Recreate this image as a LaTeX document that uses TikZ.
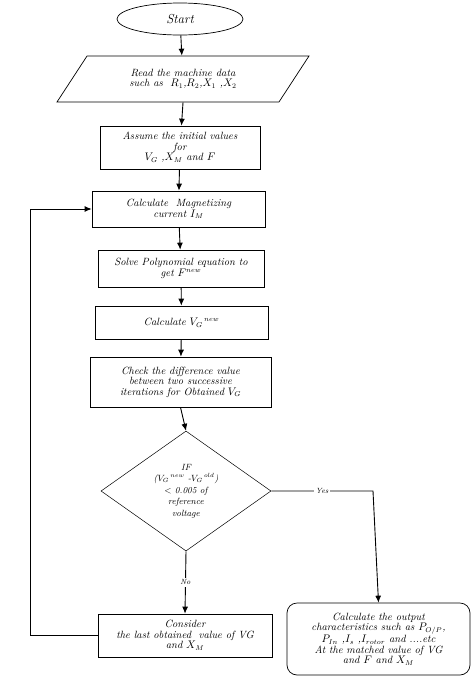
\documentclass[tikz,border=0pt]{standalone}
\usetikzlibrary{shapes.geometric,arrows.meta}
\tikzset{
  box/.style={draw, line width=0.7pt, align=center, font=\fontsize{10.5}{10.5}\selectfont\itshape, inner sep=1pt},
  arr/.style={-{Latex[length=7pt,width=6pt]}, line width=0.9pt},
  lbl/.style={fill=white, font=\fontsize{7.5}{8}\selectfont\itshape, inner sep=2pt}
}
\begin{document}
\begin{tikzpicture}[x=1pt,y=-1pt]
\useasboundingbox (0,0) rectangle (474,681);
\node[box, ellipse, minimum width=126pt, minimum height=32pt, font=\fontsize{13}{13}\selectfont\itshape] (start) at (180,19) {Start};
\node[box, trapezium, trapezium left angle=36, trapezium right angle=144, trapezium stretches body, minimum width=252pt, minimum height=46pt] (read) at (183,79) {Read the machine data\\ such as \ $R_1$,$R_2$,$X_1$ ,$X_2$};
\node[box, minimum width=160pt, minimum height=43pt] (assume) at (180,147.5) {Assume the initial values\\ for\\ $V_G$ ,$X_M$ and $F$};
\node[box, minimum width=173pt, minimum height=36pt] (calcm) at (178.5,209) {Calculate \ Magnetizing\\ current $I_M$};
\node[box, minimum width=166pt, minimum height=37pt] (solve) at (181,268.5) {Solve Polynomial equation to\\ get $F^{new}$};
\node[box, minimum width=173pt, minimum height=33pt] (calcv) at (181.5,322.5) {Calculate $V_G{}^{\,new}$};
\node[box, minimum width=181pt, minimum height=50pt] (check) at (180.5,382) {Check the difference value\\ between two successive\\ iterations for Obtained $V_G$};
\node[box, diamond, line width=0.5pt, minimum width=170pt, minimum height=120pt, inner sep=0pt, font=\fontsize{9}{11.5}\selectfont\itshape] (test) at (186,491) {IF\\ ($V_G{}^{\,new}$ -$V_G{}^{\,old}$)\\ $<$ 0.005 of\\ reference\\ voltage};
\node[box, minimum width=174pt, minimum height=43pt] (consider) at (185,635.5) {Consider\\ the last obtained \ value of VG\\ and $X_M$};
\node[box, rounded corners=10pt, minimum width=183pt, minimum height=72pt] (output) at (378.5,639) {Calculate the output\\ characteristics such as $P_{O/P}$,\\ $P_{In}$ ,$I_s$ ,$I_{rotor}$ and ....etc\\ At the matched value of VG\\ and $F$ and $X_M$};
\coordinate (loop) at (30,637);
\coordinate (yescorner) at (373,491);
\draw[arr] (start) -- (read);
\draw[arr] (read.south) -- (assume);
\draw[arr] (assume) -- (calcm);
\draw[arr] (calcm) -- (solve);
\draw[arr] (solve) -- (calcv);
\draw[arr] (calcv) -- (check);
\draw[arr] (check.south) -- (test.north);
\draw[arr] (test.south) -- node[lbl]{No} (consider.north);
\draw[arr] (test.east) -- node[lbl]{Yes} (yescorner) -- (output.north);
\draw[arr] (consider.west) -- (consider.west -| loop) |- (calcm.west);
\end{tikzpicture}
\end{document}
